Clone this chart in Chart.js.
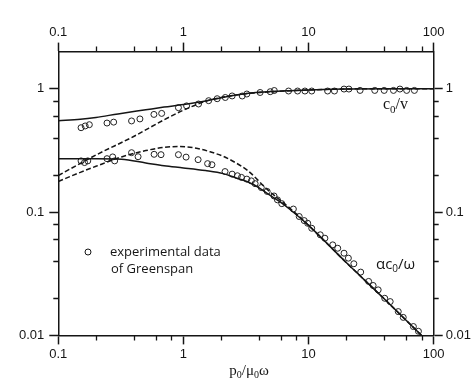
<!DOCTYPE html>
<html>
<head>
<meta charset="utf-8">
<style>
  html, body { margin: 0; padding: 0; background: #fff; }
  #wrap { position: relative; width: 474px; height: 384px; }
</style>
<script src="https://cdn.jsdelivr.net/npm/chart.js@4/dist/chart.umd.min.js"></script>
</head>
<body>
<div id="wrap"><canvas id="chart"></canvas></div>
<script>
const xTicks = [0.1, 1, 10, 100];
const yTicks = [0.01, 0.1, 1];
const xMinor = [0.2, 0.4, 0.6, 0.8, 2, 4, 6, 8, 20, 40, 60, 80];
const yMinor = [0.02, 0.04, 0.06, 0.08, 0.2, 0.4, 0.6, 0.8];

// c0/v curves
const velSolidX = [0.1, 0.15, 0.2, 0.3, 0.5, 0.7, 1, 1.5, 2, 3, 4, 5, 7, 10, 15, 20, 50, 100];
const velSolidY = [0.55, 0.565, 0.585, 0.625, 0.675, 0.71, 0.745, 0.795, 0.845, 0.905, 0.935, 0.95, 0.965, 0.978, 0.99, 0.996, 1, 1];
const velDashX = [0.1, 0.2, 0.4, 0.7, 1, 1.5, 2, 3, 5, 7, 10, 15, 20, 50, 100];
const velDashY = [0.198, 0.29, 0.41, 0.56, 0.67, 0.79, 0.85, 0.905, 0.945, 0.962, 0.977, 0.99, 0.996, 1, 1];

// alpha c0/omega curves
const attSolidX = [0.1, 0.2, 0.32, 0.5, 0.7, 1, 1.5, 2.08, 2.6, 3.25, 4, 4.7, 6, 7.2, 10, 20, 40, 85];
const attSolidY = [0.27, 0.27, 0.268, 0.25, 0.237, 0.228, 0.217, 0.205, 0.19, 0.176, 0.158, 0.141, 0.12, 0.104, 0.078, 0.039, 0.0199, 0.0094];
const attDashX = [0.1, 0.15, 0.2, 0.32, 0.5, 0.7, 0.94, 1.3, 1.6, 2.08, 2.6, 3.25, 4.7, 7.2, 10, 20, 40, 85];
const attDashY = [0.177, 0.21, 0.235, 0.28, 0.315, 0.335, 0.34, 0.328, 0.31, 0.283, 0.252, 0.218, 0.152, 0.106, 0.078, 0.039, 0.0199, 0.0094];

// experimental data of Greenspan
const expVelX = [0.152, 0.164, 0.177, 0.245, 0.277, 0.385, 0.449, 0.581, 0.670, 0.912, 1.06, 1.32, 1.59, 1.86, 2.16, 2.45, 2.95, 3.21, 4.10, 4.94, 5.32, 6.92, 8.17, 9.35, 10.6, 14.2, 16.1, 19.2, 21.0, 25.8, 33.8, 40.2, 47.7, 53.7, 60.8, 70.1];
const expVelY = [0.483, 0.499, 0.511, 0.527, 0.536, 0.548, 0.569, 0.619, 0.631, 0.702, 0.726, 0.752, 0.80, 0.83, 0.849, 0.874, 0.873, 0.906, 0.932, 0.946, 0.967, 0.958, 0.958, 0.958, 0.958, 0.958, 0.958, 0.994, 0.994, 0.969, 0.969, 0.969, 0.969, 0.994, 0.969, 0.969];
const expAttX = [0.152, 0.162, 0.172, 0.245, 0.272, 0.282, 0.385, 0.434, 0.583, 0.662, 0.912, 1.05, 1.31, 1.56, 1.69, 2.15, 2.45, 2.70, 2.91, 3.21, 3.49, 3.74, 4.19, 4.67, 5.30, 5.64, 6.11, 7.56, 8.42, 9.23, 9.84, 10.6, 12.4, 13.5, 15.6, 17.1, 19.2, 20.8, 23.0, 26.1, 30.2, 32.8, 36.0, 40.6, 44.9, 52.1, 57.1, 68.8, 75.5];
const expAttY = [0.260, 0.252, 0.260, 0.271, 0.280, 0.260, 0.303, 0.281, 0.294, 0.292, 0.292, 0.279, 0.266, 0.247, 0.242, 0.213, 0.203, 0.197, 0.191, 0.185, 0.179, 0.170, 0.158, 0.147, 0.135, 0.1256, 0.117, 0.1058, 0.0920, 0.0853, 0.0811, 0.0739, 0.0654, 0.0614, 0.0542, 0.0509, 0.0464, 0.0423, 0.0381, 0.0326, 0.0274, 0.0254, 0.0234, 0.0200, 0.0188, 0.0156, 0.0140, 0.0118, 0.0108];

const ink = '#151515';
const pts = (xs, ys) => xs.map((x, i) => ({ x, y: ys[i] }));

const curve = (xs, ys, dashed) => ({
  type: 'line',
  data: pts(xs, ys),
  borderColor: ink,
  borderWidth: 1.5,
  borderDash: dashed ? [5, 2.5] : [],
  pointRadius: 0,
  fill: false,
  cubicInterpolationMode: 'monotone'
});

const circles = (xs, ys) => ({
  type: 'scatter',
  data: pts(xs, ys),
  pointStyle: 'circle',
  pointRadius: 3,
  borderWidth: 1,
  borderColor: '#222',
  backgroundColor: 'rgba(0,0,0,0)'
});

const axisFont = { family: '"Liberation Sans", Arial, sans-serif', size: 13 };

const logAxis = (position, min, max, major, pad) => ({
  type: 'logarithmic',
  position,
  min,
  max,
  afterBuildTicks: (scale) => { scale.ticks = major.map((v) => ({ value: v })); },
  ticks: {
    color: ink,
    font: axisFont,
    padding: pad,
    autoSkip: false,
    maxRotation: 0,
    callback: (v) => String(v)
  },
  grid: {
    display: true,
    drawOnChartArea: false,
    drawTicks: true,
    tickLength: 9,
    tickWidth: 1.5,
    tickColor: ink,
    color: ink
  },
  border: { display: true, color: ink, width: 1.5 }
});

// draw sub-scripted label pieces
function drawRich(ctx, parts, x, y, size, family, align) {
  const subSize = Math.round(size * 0.68);
  const widths = parts.map((p) => {
    ctx.font = `${p.sub ? subSize : size}px ${family}`;
    return ctx.measureText(p.t).width;
  });
  const total = widths.reduce((a, b) => a + b, 0);
  let cx = align === 'center' ? x - total / 2 : x;
  parts.forEach((p, i) => {
    ctx.font = `${p.sub ? subSize : size}px ${family}`;
    ctx.fillText(p.t, cx, p.sub ? y + size * 0.22 : y);
    cx += widths[i];
  });
}

const decor = {
  id: 'decor',
  afterDraw(chart) {
    const { ctx, chartArea: a, scales } = chart;
    ctx.save();
    ctx.strokeStyle = ink;
    ctx.lineWidth = 1.3;
    ctx.beginPath();
    xMinor.forEach((v) => {
      const px = Math.round(scales.x.getPixelForValue(v)) + 0.5;
      ctx.moveTo(px, a.bottom); ctx.lineTo(px, a.bottom + 5);
      ctx.moveTo(px, a.top); ctx.lineTo(px, a.top - 5);
    });
    yMinor.forEach((v) => {
      const py = Math.round(scales.y.getPixelForValue(v)) + 0.5;
      ctx.moveTo(a.left, py); ctx.lineTo(a.left - 5, py);
      ctx.moveTo(a.right, py); ctx.lineTo(a.right + 5, py);
    });
    ctx.stroke();

    ctx.fillStyle = ink;
    ctx.textBaseline = 'alphabetic';
    ctx.textAlign = 'left';
    const serif = '"Liberation Serif", "DejaVu Serif", serif';
    const sans = '"Open Sans", "Noto Sans", sans-serif';

    drawRich(ctx, [{ t: 'c' }, { t: '0', sub: true }, { t: '/v' }], 383, 109, 16, serif, 'left');
    drawRich(ctx, [{ t: 'αc' }, { t: '0', sub: true }, { t: '/ω' }], 376, 269, 15, sans, 'left');
    drawRich(ctx, [{ t: 'p' }, { t: '0', sub: true }, { t: '/μ' }, { t: '0', sub: true }, { t: 'ω' }], 249, 375, 15, serif, 'center');

    // legend
    ctx.beginPath();
    ctx.lineWidth = 1;
    ctx.arc(88, 252, 3, 0, Math.PI * 2);
    ctx.stroke();
    ctx.font = `13px ${sans}`;
    ctx.fillText('experimental data', 110, 256);
    ctx.fillText('of Greenspan', 111, 273);
    ctx.restore();
  }
};

new Chart(document.getElementById('chart'), {
  data: {
    datasets: [
      curve(velSolidX, velSolidY, false),
      curve(velDashX, velDashY, true),
      curve(attSolidX, attSolidY, false),
      curve(attDashX, attDashY, true),
      circles(expVelX, expVelY),
      circles(expAttX, expAttY)
    ]
  },
  options: {
    responsive: true,
    maintainAspectRatio: false,
    animation: false,
    layout: { padding: { left: 14, right: 0, top: 23, bottom: 20 } },
    plugins: { legend: { display: false }, tooltip: { enabled: false } },
    scales: {
      x: logAxis('bottom', 0.1, 100, xTicks, 2),
      x2: logAxis('top', 0.1, 100, xTicks, 2),
      y: logAxis('left', 0.01, 2, yTicks, 5),
      y2: logAxis('right', 0.01, 2, yTicks, 3)
    }
  },
  plugins: [decor]
});
</script>
</body>
</html>
